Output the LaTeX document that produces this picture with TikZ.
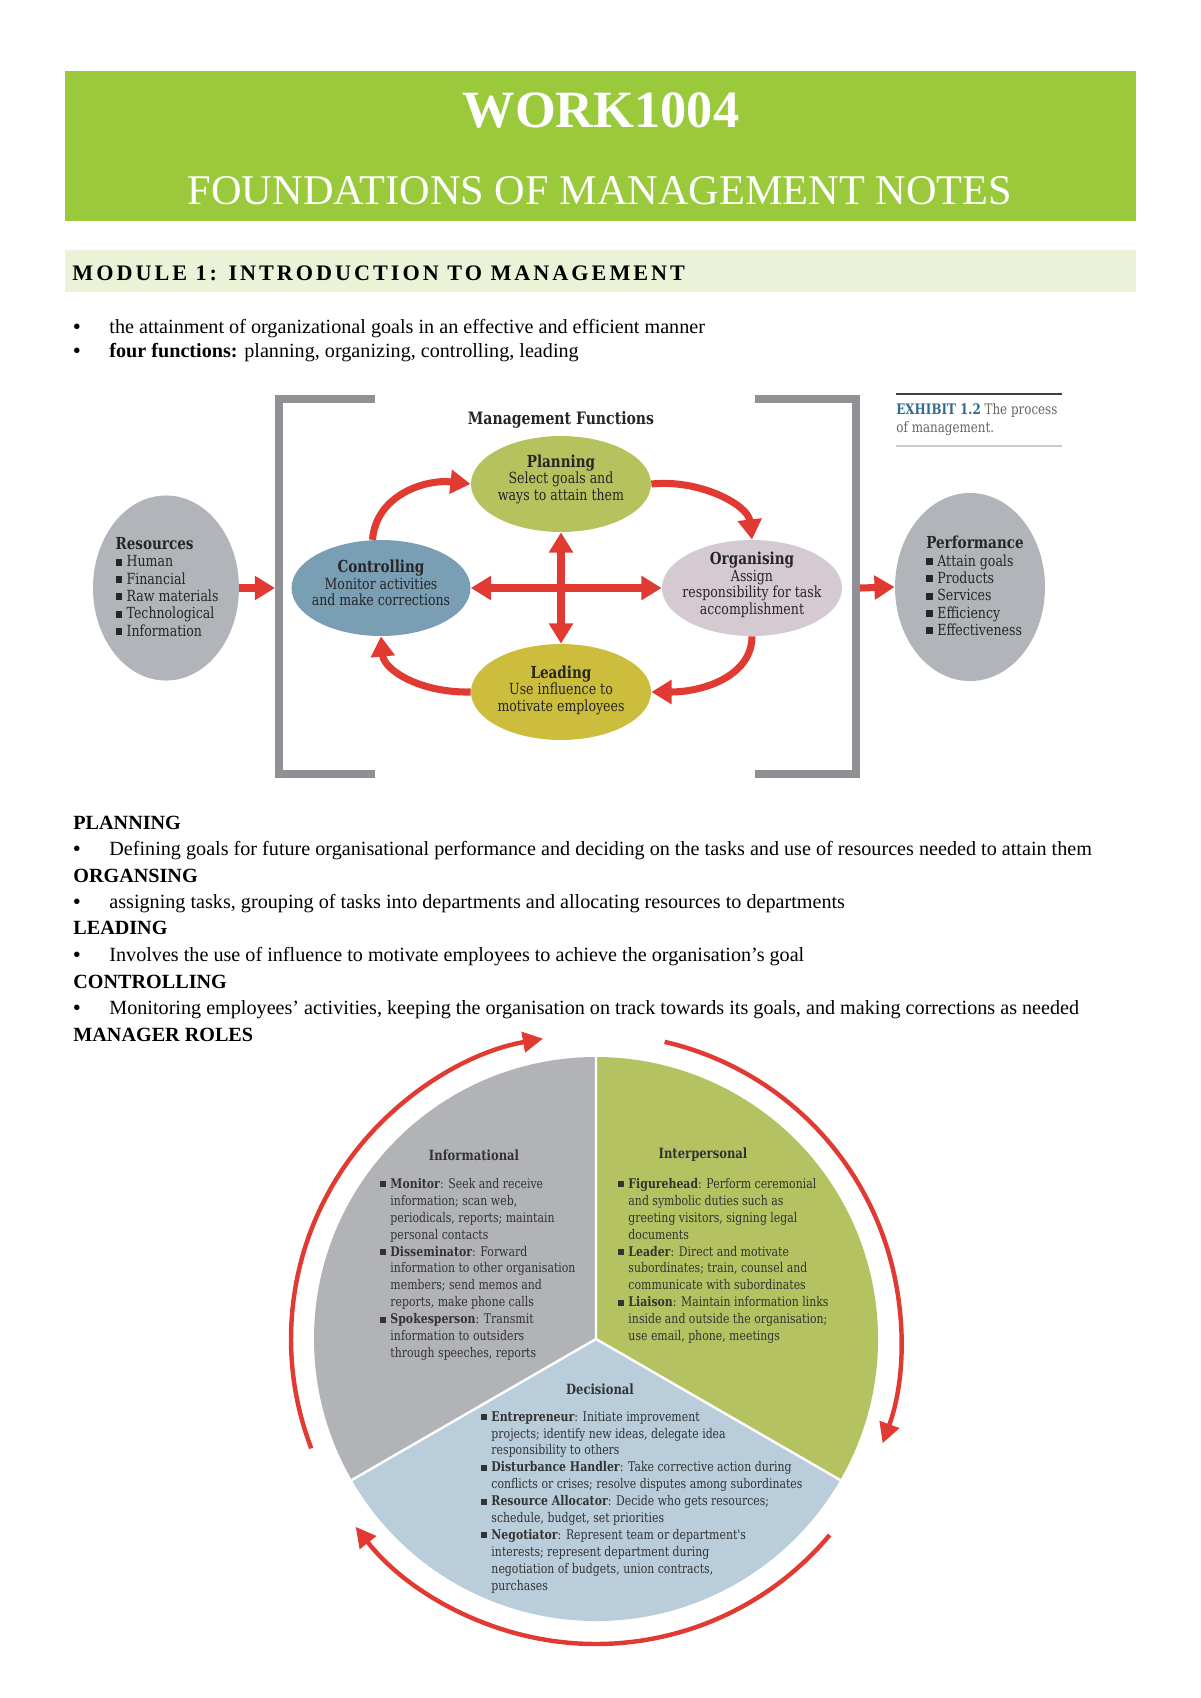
\documentclass[tikz,border=0pt]{standalone}
\usepackage{fontspec}
\setmainfont{Liberation Serif}
\newfontfamily\dfont[FakeStretch=0.82]{DejaVu Serif}
\newfontfamily\modfont[LetterSpace=13.5]{Liberation Serif}
\usetikzlibrary{shapes.geometric,arrows.meta}
\definecolor{bannergreen}{HTML}{9ACA3C}
\definecolor{bandgreen}{HTML}{EAF2D7}
\definecolor{arrowred}{HTML}{E03A32}
\definecolor{brgray}{HTML}{8F9195}
\definecolor{resgray}{HTML}{B1B4B8}
\definecolor{plangreen}{HTML}{B6C25E}
\definecolor{ctrlblue}{HTML}{7A9EB4}
\definecolor{orgmauve}{HTML}{D5CAD2}
\definecolor{leadyellow}{HTML}{CCBE3C}
\definecolor{exblue}{HTML}{2F6B8F}
\definecolor{piegray}{HTML}{B1B3B6}
\definecolor{piegreen}{HTML}{B4C262}
\definecolor{pieblue}{HTML}{B9CDDB}
\newcommand\mysq{\rule[0.08em]{0.45em}{0.45em}}
\newcommand\bitem[1]{\makebox[#1][l]{\mysq}}
\newcommand\hd[1]{{\fontsize{8.2}{9}\selectfont\bfseries #1}}
\begin{document}
\begin{tikzpicture}[x=0.4961pt,y=-0.4961pt,
  body/.style={anchor=base west, inner sep=0pt, font=\fontsize{10}{12}\selectfont},
  bodyb/.style={anchor=base west, inner sep=0pt, font=\fontsize{10}{12}\selectfont\bfseries},
  fn/.style={ellipse, inner sep=0pt, draw=none},
  ftxt/.style={align=center, inner sep=0pt, font=\dfont\fontsize{7.6}{8.2}\selectfont, text=black!85},
  ltxt/.style={align=left, inner sep=0pt, font=\dfont\fontsize{7.6}{8.6}\selectfont, text=black!85},
  ra/.style={draw=arrowred, line width=3.5pt, -{Triangle[length=10pt,width=11.5pt]}},
  rab/.style={draw=arrowred, line width=3.5pt, {Triangle[length=10pt,width=11.5pt]}-{Triangle[length=10pt,width=11.5pt]}},
  ring/.style={draw=arrowred, line width=2.2pt, -{Triangle[length=10pt,width=10pt]}},
  bracket/.style={draw=brgray, line width=4pt},
  pietxt/.style={anchor=north west, align=left, inner sep=0pt, font=\dfont\fontsize{6.6}{8.38}\selectfont, text=black!80},
  piehead/.style={inner sep=0pt, font=\dfont\fontsize{7}{8}\selectfont\bfseries, text=black!80}
]
\useasboundingbox (0,0) rectangle (1200,1698);
\fill[white] (0,0) rectangle (1200,1698);

% ---------- banner ----------
\fill[bannergreen] (65,71) rectangle (1136,221);
\node[inner sep=0pt, text=white, font=\fontsize{26}{30}\selectfont\bfseries] (t1) at (601,110) {WORK1004};
\node[inner sep=0pt, text=white, font=\fontsize{21}{25}\selectfont] (t2) at (600,191) {FOUNDATIONS OF MANAGEMENT NOTES};
\fill[bandgreen] (65,250) rectangle (1136,292);
\node[anchor=west, inner sep=0pt, font=\modfont\fontsize{11}{13}\selectfont\bfseries] (mod) at (72,273) {MODULE 1: INTRODUCTION TO MANAGEMENT};

\node[body] (bu1) at (73,333) {\textbf{\textbullet}};
\node[body] (l1) at (109,333) {the attainment of organizational goals in an effective and efficient manner};
\node[body] (bu2) at (73,357) {\textbf{\textbullet}};
\node[body] (l2) at (109,357) {\textbf{four functions:} planning, organizing, controlling, leading};

% ---------- management functions diagram ----------
\draw[bracket] (375,399) -- (279,399) -- (279,774) -- (375,774);
\draw[bracket] (755,399) -- (856,399) -- (856,774) -- (755,774);

\node[ftxt, font=\dfont\fontsize{8.5}{9}\selectfont\bfseries] (mf) at (561,420) {Management Functions};

\node[fn, fill=resgray, minimum width=72.4pt, minimum height=91.8pt] (res) at (166,588) {};
\node[fn, fill=plangreen, minimum width=89.3pt, minimum height=47.6pt] (pla) at (561,484) {};
\node[fn, fill=ctrlblue, minimum width=88.8pt, minimum height=47.6pt] (con) at (381,588) {};
\node[fn, fill=orgmauve, minimum width=89.3pt, minimum height=47.6pt] (org) at (752,588) {};
\node[fn, fill=leadyellow, minimum width=89.3pt, minimum height=47.6pt] (lea) at (561,692) {};
\node[fn, fill=resgray, minimum width=74.4pt, minimum height=93.3pt] (per) at (970,587) {};

\node[ltxt] (rest) at (167,587) {\hd{Resources}\\
\bitem{5.5pt}Human\\ \bitem{5.5pt}Financial\\ \bitem{5.5pt}Raw materials\\ \bitem{5.5pt}Technological\\ \bitem{5.5pt}Information};
\node[ltxt] (pert) at (975,586) {\hd{Performance}\\
\bitem{5.5pt}Attain goals\\ \bitem{5.5pt}Products\\ \bitem{5.5pt}Services\\ \bitem{5.5pt}Efficiency\\ \bitem{5.5pt}Effectiveness};
\node[ftxt] (plat) at (561,479) {\hd{Planning}\\Select goals and\\ways to attain them};
\node[ftxt] (cont) at (381,583) {\hd{Controlling}\\Monitor activities\\and make corrections};
\node[ftxt] (orgt) at (752,585) {\hd{Organising}\\Assign\\responsibility for task\\accomplishment};
\node[ftxt] (leat) at (561,690) {\hd{Leading}\\Use influence to\\motivate employees};

\coordinate (lbr) at (275,588);
\coordinate (rbr) at (860,588);
\draw[ra] (res.east) -- (lbr);
\draw[ra] (rbr) -- (per.west);
\draw[rab] (con.east) -- (org.west);
\draw[rab] (pla.south) -- (lea.north);
\draw[ra] (con.100) .. controls (376,495) and (425,479) .. (pla.west);
\draw[ra] (pla.east) .. controls (700,479) and (748,505) .. (org.north);
\draw[ra] (org.south) .. controls (752,675) and (705,692) .. (lea.east);
\draw[ra] (lea.west) .. controls (420,693) and (384,670) .. (con.south);

% exhibit caption
\coordinate (ex1) at (896,394); \coordinate (ex2) at (1062,394);
\coordinate (ex3) at (896,446); \coordinate (ex4) at (1062,446);
\draw[black!75, line width=1pt] (ex1) -- (ex2);
\draw[black!20, line width=0.8pt] (ex3) -- (ex4);
\node[anchor=north west, align=left, inner sep=0pt, font=\dfont\fontsize{7.2}{9}\selectfont] (ex) at (896,403)
  {\textcolor{exblue}{\bfseries EXHIBIT 1.2} \textcolor{black!60}{The process}\\\textcolor{black!60}{of management.}};

% ---------- text section ----------
\node[bodyb] (h1) at (73,829) {PLANNING};
\node[body] (b1) at (73,855) {\textbf{\textbullet}};
\node[body] (s1) at (109,855) {Defining goals for future organisational performance and deciding on the tasks and use of resources needed to attain them};
\node[bodyb] (h2) at (73,882) {ORGANSING};
\node[body] (b2) at (73,908) {\textbf{\textbullet}};
\node[body] (s2) at (109,908) {assigning tasks, grouping of tasks into departments and allocating resources to departments};
\node[bodyb] (h3) at (73,934) {LEADING};
\node[body] (b3) at (73,961) {\textbf{\textbullet}};
\node[body] (s3) at (109,961) {Involves the use of influence to motivate employees to achieve the organisation’s goal};
\node[bodyb] (h4) at (73,988) {CONTROLLING};
\node[body] (b4) at (73,1014) {\textbf{\textbullet}};
\node[body] (s4) at (109,1014) {Monitoring employees’ activities, keeping the organisation on track towards its goals, and making corrections as needed};
\node[bodyb] (h5) at (73,1041) {MANAGER ROLES};

% ---------- manager roles pie ----------
\coordinate (pc) at (596,1339);
\begin{scope}[shift={(pc)}, x=0.4961pt, y=0.4961pt]
  \fill[piegray] (0,0) -- (90:139.9pt) arc[start angle=90, end angle=210, radius=139.9pt] -- cycle;
  \fill[pieblue] (0,0) -- (210:139.9pt) arc[start angle=210, end angle=330, radius=139.9pt] -- cycle;
  \fill[piegreen] (0,0) -- (-30:139.9pt) arc[start angle=-30, end angle=90, radius=139.9pt] -- cycle;
  \draw[white, line width=1.2pt] (0,0) -- (90:139.9pt) (0,0) -- (210:139.9pt) (0,0) -- (330:139.9pt);
  \draw[ring] (201:151.3pt) arc[start angle=201, end angle=100, radius=151.3pt];
  \draw[ring] (77:151.3pt) arc[start angle=77, end angle=-20, radius=151.3pt];
  \draw[ring] (-40:151.3pt) arc[start angle=-40, end angle=-142, radius=151.3pt];
\end{scope}

\node[piehead] (infh) at (474,1155) {Informational};
\node[pietxt] (infb) at (380,1178) {\bitem{5pt}\textbf{Monitor}: Seek and receive\\
\hspace*{5pt}information; scan web,\\
\hspace*{5pt}periodicals, reports; maintain\\
\hspace*{5pt}personal contacts\\
\bitem{5pt}\textbf{Disseminator}: Forward\\
\hspace*{5pt}information to other organisation\\
\hspace*{5pt}members; send memos and\\
\hspace*{5pt}reports, make phone calls\\
\bitem{5pt}\textbf{Spokesperson}: Transmit\\
\hspace*{5pt}information to outsiders\\
\hspace*{5pt}through speeches, reports};

\node[piehead] (inth) at (703,1155) {Interpersonal};
\node[pietxt] (intb) at (618,1178) {\bitem{5pt}\textbf{Figurehead}: Perform ceremonial\\
\hspace*{5pt}and symbolic duties such as\\
\hspace*{5pt}greeting visitors, signing legal\\
\hspace*{5pt}documents\\
\bitem{5pt}\textbf{Leader}: Direct and motivate\\
\hspace*{5pt}subordinates; train, counsel and\\
\hspace*{5pt}communicate with subordinates\\
\bitem{5pt}\textbf{Liaison}: Maintain information links\\
\hspace*{5pt}inside and outside the organisation;\\
\hspace*{5pt}use email, phone, meetings};

\node[piehead] (dech) at (600,1389) {Decisional};
\node[pietxt] (decb) at (481,1411) {\bitem{5pt}\textbf{Entrepreneur}: Initiate improvement\\
\hspace*{5pt}projects; identify new ideas, delegate idea\\
\hspace*{5pt}responsibility to others\\
\bitem{5pt}\textbf{Disturbance Handler}: Take corrective action during\\
\hspace*{5pt}conflicts or crises; resolve disputes among subordinates\\
\bitem{5pt}\textbf{Resource Allocator}: Decide who gets resources;\\
\hspace*{5pt}schedule, budget, set priorities\\
\bitem{5pt}\textbf{Negotiator}: Represent team or department's\\
\hspace*{5pt}interests; represent department during\\
\hspace*{5pt}negotiation of budgets, union contracts,\\
\hspace*{5pt}purchases};
\end{tikzpicture}
\end{document}
